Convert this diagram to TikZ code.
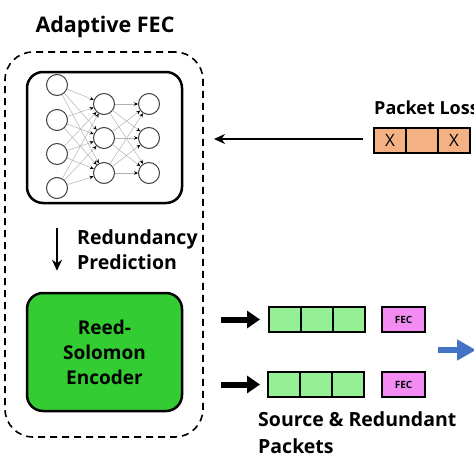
\documentclass[tikz,border=0pt]{standalone}
\usepackage{fontspec}
\setmainfont{Open Sans}
\usetikzlibrary{arrows.meta,positioning}
\definecolor{lossorange}{HTML}{F4B183}
\definecolor{rsgreen}{HTML}{33CC33}
\definecolor{pktgreen}{HTML}{95F095}
\definecolor{fecpink}{HTML}{F28CF2}
\definecolor{flowblue}{HTML}{4472C4}
\tikzset{
	txt/.style = {font=\bfseries\fontsize{19}{25}\selectfont, inner sep=0pt},
	neuron/.style = {circle, draw=black!75, line width=1pt, minimum size=21pt,
		inner sep=0pt},
	nnlink/.style = {draw=black!30, line width=0.5pt,
		-{Stealth[length=4pt, width=3.5pt, color=black]}},
	cell/.style = {rectangle, draw=black, line width=1.6pt, minimum width=32pt,
		minimum height=25pt, inner sep=0pt, outer sep=0pt},
	losscell/.style = {cell, fill=lossorange, font=\fontsize{17}{17}\selectfont},
	pktcell/.style = {cell, fill=pktgreen},
	feccell/.style = {cell, fill=fecpink, minimum width=43pt,
		font=\bfseries\fontsize{10}{10}\selectfont},
	roundbox/.style = {rectangle, draw=black, line width=2.5pt, rounded corners=16pt,
		minimum width=155pt},
	bigarrow/.style = {line width=6pt, -{Triangle[length=13pt, width=17pt]}},
	thinarrow/.style = {line width=2pt, -{Stealth[length=11pt, width=10pt]}}
}
\begin{document}
\begin{tikzpicture}[x=1pt, y=-1pt]
\useasboundingbox (0,0) rectangle (474,474);
% title and dashed frame
\node [txt, font=\bfseries\fontsize{21.5}{25}\selectfont] (title) at (105,27) {Adaptive FEC};
\node [draw, line width=1.6pt, dash pattern=on 7pt off 5pt, rounded corners=28pt,
	minimum width=198pt, minimum height=385pt] (afec) at (104,244.5) {};
% neural network
\node [roundbox, minimum height=131pt] (nnbox) at (104.5,137.5) {};
\foreach \i/\y in {1/85,2/120,3/154,4/188}
	\node [neuron] (in\i) at (57,\y) {};
\foreach \i/\y in {1/104,2/138,3/173} {
	\node [neuron] (h\i) at (104,\y) {};
	\node [neuron] (o\i) at (149,\y) {};
}
\foreach \i in {1,...,4}
	\foreach \j in {1,2,3}
		\draw [nnlink] (in\i) -- (h\j);
\foreach \i in {1,2,3}
	\foreach \j in {1,2,3}
		\draw [nnlink] (h\i) -- (o\j);
% packet loss input
\node [txt, font=\bfseries\fontsize{18}{25}\selectfont, anchor=west] (losstxt) at (374,108) {Packet Loss};
\node [losscell] (lc1) at (390,140.5) {X};
\node [losscell] (lc2) at (422,140.5) {};
\node [losscell] (lc3) at (454,140.5) {X};
\coordinate (lossout) at (363,139);
\coordinate (nnin) at (214,139);
\draw [thinarrow] (lossout) -- (nnin);
% redundancy prediction
\node [roundbox, fill=rsgreen, minimum height=118pt, align=center, txt] (rsenc) at (104.5,352) {Reed-\\Solomon\\Encoder};
\draw [thinarrow, shorten <=24pt, shorten >=21pt] (nnbox.south -| in4) -- (rsenc.north -| in4);
\node [txt, anchor=west, align=left, font=\bfseries\fontsize{19.5}{25}\selectfont] (predtxt) at (77,250) {Redundancy\\Prediction};
% output packets
\foreach \k in {1,2,3} {
	\node [pktcell] (pa\k) at (253+32*\k,319.5) {};
	\node [pktcell] (pb\k) at (252+32*\k,384.5) {};
}
\node [feccell] (fa) at (403.5,319.5) {FEC};
\node [feccell] (fb) at (403.5,384.5) {FEC};
\draw [bigarrow, shorten <=38pt, shorten >=9pt] (rsenc.east |- pa1.west) -- (pa1.west);
\draw [bigarrow, shorten <=38pt, shorten >=8pt] (rsenc.east |- pb1.west) -- (pb1.west);
\node [txt, anchor=west, align=left, font=\bfseries\fontsize{19.5}{27}\selectfont] (pkttxt) at (258,433) {Source \& Redundant\\Packets};
\coordinate (flowstart) at (438,350);
\coordinate (flowend) at (476,350);
\draw [flowblue, line width=6pt, -{Triangle[length=19pt, width=20pt]}] (flowstart) -- (flowend);
\end{tikzpicture}
\end{document}
